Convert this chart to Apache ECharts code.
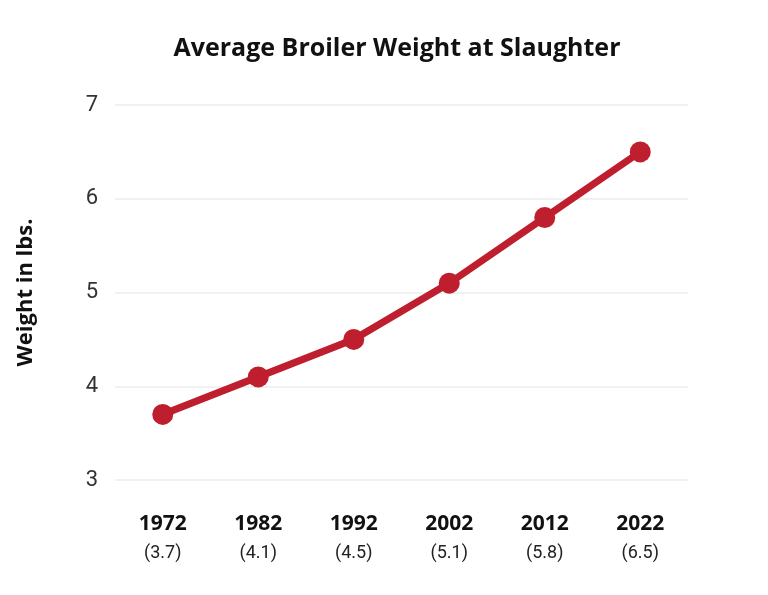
<!DOCTYPE html>
<html>
<head>
<meta charset="utf-8">
<script src="https://cdn.jsdelivr.net/npm/echarts@6/dist/echarts.min.js"></script>
<style>
  html, body { margin: 0; padding: 0; background: #fff; }
  #chart { width: 768px; height: 595px; }
</style>
</head>
<body>
<div id="chart"></div>
<script>
var years = ['1972', '1982', '1992', '2002', '2012', '2022'];
var weights = [3.7, 4.1, 4.5, 5.1, 5.8, 6.5];
var yTicks = [3, 4, 5, 6, 7];

var chart = echarts.init(document.getElementById('chart'));

var option = {
    backgroundColor: '#ffffff',
    animation: false,
    title: {
        text: 'Average Broiler Weight at Slaughter',
        left: 392,
        top: 31,
        textAlign: 'center',
        textStyle: {
            fontFamily: 'Open Sans',
            fontWeight: 'bold',
            fontSize: 25,
            color: '#111'
        }
    },
    grid: {
        left: 115,
        right: 80,
        top: 105,
        bottom: 115
    },
    xAxis: {
        type: 'category',
        data: years,
        boundaryGap: true,
        axisLine: { show: false },
        axisTick: { show: false },
        axisLabel: {
            margin: 30,
            formatter: function (value, idx) {
                return '{y|' + value + '}\n{v|(' + weights[idx].toFixed(1) + ')}';
            },
            rich: {
                y: {
                    fontFamily: 'Open Sans',
                    fontWeight: 'bold',
                    fontSize: 21,
                    color: '#111',
                    lineHeight: 28
                },
                v: {
                    fontFamily: 'Roboto',
                    fontSize: 18,
                    color: '#222',
                    lineHeight: 30
                }
            }
        }
    },
    yAxis: {
        type: 'value',
        min: yTicks[0],
        max: yTicks[yTicks.length - 1],
        interval: 1,
        name: 'Weight in lbs.',
        nameLocation: 'middle',
        nameGap: 78,
        nameRotate: 90,
        nameTextStyle: {
            fontFamily: 'Open Sans',
            fontWeight: 'bold',
            fontSize: 22,
            color: '#111'
        },
        axisLine: { show: false },
        axisTick: { show: false },
        axisLabel: {
            margin: 17,
            fontFamily: 'Roboto',
            fontSize: 22,
            color: '#333'
        },
        splitLine: {
            lineStyle: { color: '#ececec', width: 1.5 }
        }
    },
    series: [
        {
            type: 'line',
            data: weights,
            symbol: 'circle',
            symbolSize: 21,
            lineStyle: { color: '#be1e2d', width: 7 },
            itemStyle: { color: '#be1e2d' }
        }
    ]
};

chart.setOption(option);
</script>
</body>
</html>
